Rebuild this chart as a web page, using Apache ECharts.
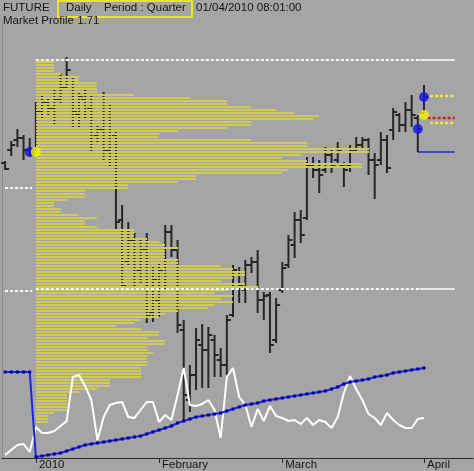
<!DOCTYPE html>
<html>
<head>
<meta charset="utf-8">
<script src="https://cdn.jsdelivr.net/npm/echarts@6/dist/echarts.min.js"></script>
<style>
html, body { margin: 0; padding: 0; background: #a5a5a5; }
#main { width: 474px; height: 471px; }
</style>
</head>
<body>
<div id="main"></div>
<script>
// trading day index, 0 = 04 Jan 2010 (negatives = end of Dec 2009)
const days = [-5, -4, -3, -2, -1,
  0, 1, 2, 3, 4, 5, 6, 7, 8, 9, 10, 11, 12, 13, 14, 15, 16, 17, 18, 19,
  20, 21, 22, 23, 24, 25, 26, 27, 28, 29, 30, 31, 32, 33, 34, 35, 36, 37, 38, 39,
  40, 41, 42, 43, 44, 45, 46, 47, 48, 49, 50, 51, 52, 53, 54, 55, 56, 57, 58, 59,
  60, 61, 62, 63]
const highs = [1148.5, 1158.5, 1164.5, 1161.5, 1160,
  1178, 1181.5, 1180, 1185, 1192.5, 1200.5, 1190, 1182.5, 1185, 1181.5,
  1166.5, 1183, 1176.5, 1164, 1126.5, 1118, 1112.5, 1109, 1112.5, 1096.5,
  1098, 1116.5, 1116.5, 1109, 1069, 1046.5, 1065, 1067, 1065.5, 1061.5,
  1055, 1071.5, 1096.5, 1095.5, 1099, 1100.5, 1104, 1083, 1083, 1080,
  1098, 1111.5, 1123, 1124, 1150.5, 1150.5, 1149, 1155.5, 1154, 1158,
  1148, 1156.5, 1160.5, 1160.5, 1160, 1152.5, 1163, 1161.5, 1175, 1172.5,
  1178, 1181.5, 1171.5, 1186.5]
const lows = [1144, 1151, 1155.5, 1149, 1150.5,
  1154, 1170, 1171.5, 1166.5, 1176.5, 1185, 1165.5, 1165, 1170, 1153,
  1157.5, 1149, 1145, 1114, 1085.5, 1096.5, 1085.5, 1086.5, 1067.5, 1068,
  1070.5, 1084, 1100.5, 1062.5, 1018, 1023, 1034, 1035, 1035, 1040.5,
  1040.5, 1041.5, 1070.5, 1077.5, 1077.5, 1092.5, 1072.5, 1069, 1052.5, 1057.5,
  1082.5, 1095, 1100, 1107.5, 1119, 1140, 1132.5, 1142.5, 1142.5, 1146.5,
  1135.5, 1143, 1153, 1154, 1141.5, 1129.5, 1146.5, 1142.5, 1159, 1163,
  1163, 1165.5, 1153, 1172.5]
const opens = [1147.5, 1154, 1159, 1160, 1154,
  1154, 1173, 1177.5, 1175, 1179, 1185, 1189, 1171.5, 1179, 1175,
  1161.5, 1164, 1154, 1161.5, 1119, 1098, 1109, 1094, 1104, 1073,
  1079, 1091.5, 1113, 1104, 1064, 1029, 1041.5, 1056.5, 1054, 1059,
  1049, 1046.5, 1071.5, 1091.5, 1084, 1096.5, 1098, 1079, 1081.5, 1059,
  1084, 1096.5, 1106.5, 1119, 1120, 1146.5, 1144, 1144, 1151.5, 1149,
  1146.5, 1146.5, 1154, 1156.5, 1159, 1149, 1149, 1159, 1164, 1171.5,
  1166.5, 1174, 1170, 1172.5]
const closes = [1144.5, 1156.5, 1160, 1154, 1153,
  1173, 1177.5, 1175, 1179, 1185, 1194, 1173, 1180.5, 1174, 1159,
  1164, 1154, 1165, 1118, 1086.5, 1109, 1091.5, 1104, 1071.5, 1089,
  1094, 1113, 1104, 1066.5, 1031.5, 1041.5, 1059, 1054, 1061.5, 1051.5,
  1046.5, 1069, 1094, 1086.5, 1096.5, 1098, 1079, 1081, 1056.5, 1076.5,
  1095, 1109, 1119, 1111.5, 1146.5, 1144, 1141.5, 1151.5, 1146.5, 1154,
  1144, 1154, 1156.5, 1159, 1149, 1146.5, 1159, 1145, 1173, 1166.5,
  1174, 1171.5, 1164.5, 1180.5]

// lower indicators
const oscillator = [3, 8, 13, 14, 6,
  31, 25, 25, 27, 32, 37, 81, 83, 72, 58,
  18, 41, 53, 55, 56, 41, 40, 48, 56, 56,
  36, 43, 38, 63, 90, 53, 52, 54, 58, 48,
  20, 81, 90, 61, 53, 31, 49, 37, 52, 42,
  40, 37, 38, 34, 40, 33, 38, 36, 30, 41,
  65, 82, 69, 58, 44, 40, 33, 45, 38, 33,
  30, 30, 39, 40]
const cumulative = [86, 86, 86, 86, 86,
  1, 2, 3, 4, 5, 7, 9, 11, 13, 14,
  15, 16, 17, 18, 19, 20, 21, 22, 24, 26,
  28, 30, 32, 35, 37, 39, 41, 42, 43, 44,
  45, 47, 49, 51, 53, 54, 55, 57, 58, 59,
  60, 61, 62, 63, 64, 65, 66, 67, 69, 71,
  74, 76, 77, 78, 79, 81, 82, 83, 85, 86,
  87, 88, 89, 90]

// market profile: TPO count per price row, from the top row down
const rowTop = 1198
const rowStep = 1.5
const tpo = [3, 3, 3, 3, 4, 7, 7, 10, 10, 10,
  10, 16, 25, 31, 31, 35, 39, 42, 46, 45,
  35, 35, 31, 23, 20, 20, 35, 44, 44, 54,
  54, 43, 40, 44, 53, 53, 41, 40, 26, 26,
  23, 15, 15, 8, 8, 8, 5, 3, 3, 4,
  4, 7, 10, 8, 8, 10, 16, 16, 16, 18,
  20, 21, 23, 21, 21, 21, 23, 23, 30, 32,
  34, 34, 32, 30, 34, 36, 31, 29, 32, 30,
  32, 29, 28, 23, 21, 20, 17, 16, 13, 17,
  20, 20, 18, 21, 21, 18, 18, 19, 18, 18,
  18, 18, 17, 17, 17, 17, 12, 12, 12, 10,
  7, 5, 5, 5, 5, 5, 5, 3, 2, 2,
  2]

const monthTicks = [0, 20, 40, 63]
const monthNames = ['2010', 'February', 'March', 'April']

const quarterLines = [1199, 1084.5]
const prevLines = [1135, 1083.5]
const quarterOpen = 1153
const yellowLevels = [1181, 1167.5]
const redLevel = 1170
const blueDots = [[-1, 1153], [62, 1164.5], [63, 1180.5]]
const yellowDots = [[0, 1153], [63, 1171.5]]

const font = 'Arial, "Liberation Sans", sans-serif'

const barData = days.map((d, i) => [d, highs[i], lows[i], opens[i], closes[i]])
const profileData = tpo.map((n, k) => [rowTop - k * rowStep, n])

function renderBar(params, api) {
  const x = api.value(0)
  const hi = api.coord([x, api.value(1)])
  const lo = api.coord([x, api.value(2)])
  const op = api.coord([x, api.value(3)])
  const cl = api.coord([x, api.value(4)])
  const st = { stroke: '#262626', lineWidth: 2 }
  return {
    type: 'group',
    children: [
      { type: 'line', shape: { x1: hi[0], y1: hi[1], x2: lo[0], y2: lo[1] }, style: st },
      { type: 'line', shape: { x1: op[0] - 4, y1: op[1], x2: op[0], y2: op[1] }, style: st },
      { type: 'line', shape: { x1: cl[0], y1: cl[1], x2: cl[0] + 4, y2: cl[1] }, style: st },
    ],
  }
}

// profile rows are 2px tall, pixel snapped, gaps let the bars show through
function renderRow(params, api) {
  const a = api.coord([0, api.value(0)])
  const b = api.coord([api.value(1), api.value(0)])
  const x0 = Math.round(a[0])
  const w = Math.round(b[0]) - x0
  const y0 = Math.round(a[1] - 1)
  return {
    type: 'rect',
    shape: { x: x0, y: y0, width: w, height: 2 },
    style: { fill: '#cfcb56' },
  }
}

function hLine(y, x0, x1, color, type, width, z) {
  return {
    type: 'line',
    data: [[x0, y], [x1, y]],
    symbol: 'none',
    silent: true,
    z: z,
    lineStyle: { color: color, type: type, width: width, cap: 'butt' },
  }
}

const series = [
  {
    type: 'custom',
    renderItem: renderBar,
    data: barData,
    encode: { x: 0, y: [1, 2] },
    z: 1,
  },
  {
    type: 'custom',
    renderItem: renderRow,
    data: profileData,
    encode: { x: 1, y: 0 },
    z: 2,
  },
]
quarterLines.forEach((v) => {
  series.push(hLine(v, 0, 62.3, '#ffffff', [3, 2], 2, 3))
  series.push(hLine(v, 62.3, 68, '#ffffff', 'solid', 1.5, 3))
})
prevLines.forEach((v) => {
  series.push(hLine(v, -5, -0.6, '#ffffff', [3, 2], 2, 3))
})
yellowLevels.forEach((v) => {
  series.push(hLine(v, 64, 68, '#eeee30', [3, 2], 2.5, 3))
})
series.push(hLine(redLevel, 63.6, 68, '#e01818', [3, 2], 2.5, 3))
series.push(hLine(quarterOpen, 62, 68, '#2020d8', 'solid', 1.5, 3))
series.push({
  type: 'scatter',
  data: blueDots,
  symbolSize: 10,
  itemStyle: { color: '#1414e6' },
  z: 4,
})
series.push({
  type: 'scatter',
  data: yellowDots,
  symbolSize: 10,
  itemStyle: { color: '#f4f400' },
  z: 5,
})
series.push({
  type: 'line',
  xAxisIndex: 1,
  yAxisIndex: 1,
  data: days.map((d, i) => [d, oscillator[i]]),
  symbol: 'none',
  lineStyle: { color: '#ffffff', width: 2 },
  z: 6,
})
series.push({
  type: 'line',
  xAxisIndex: 1,
  yAxisIndex: 1,
  data: days.map((d, i) => [d, cumulative[i]]),
  symbol: 'rect',
  symbolSize: 3,
  itemStyle: { color: '#00009a' },
  lineStyle: { color: '#2222e0', width: 2 },
  z: 7,
})

const chart = echarts.init(document.getElementById('main'))
chart.setOption({
  backgroundColor: '#a5a5a5',
  animation: false,
  grid: [
    { left: 2, width: 471.24, top: 20, height: 438 },
    { left: 2, width: 471.24, top: 358, height: 100 },
  ],
  xAxis: [
    {
      type: 'value',
      gridIndex: 0,
      min: -5.5,
      max: 71,
      splitLine: { show: false },
      axisLine: { show: true, onZero: false, lineStyle: { color: '#2a2a2a', width: 1 } },
      axisTick: { show: true, customValues: monthTicks, length: 5, lineStyle: { color: '#2a2a2a' } },
      axisLabel: {
        show: true,
        customValues: monthTicks,
        formatter: (v) => monthNames[monthTicks.indexOf(v)],
        align: 'left',
        padding: [0, 0, 0, 3],
        margin: 1,
        fontSize: 11.5,
        fontFamily: font,
        color: '#141414',
      },
    },
    { type: 'value', gridIndex: 1, min: -5.5, max: 71, show: false },
  ],
  yAxis: [
    {
      type: 'value',
      gridIndex: 0,
      min: 1000,
      max: 1219,
      splitLine: { show: false },
      axisLabel: { show: false },
      axisTick: { show: false },
      axisLine: { show: true, onZero: false, lineStyle: { color: '#8c8c8c' } },
    },
    { type: 'value', gridIndex: 1, min: 0, max: 100, show: false },
  ],
  graphic: [
    { type: 'text', x: 3, y: 2, style: { text: 'FUTURE', fontSize: 11.5, fontFamily: font, fill: '#141414', verticalAlign: 'top' } },
    { type: 'rect', shape: { x: 58, y: 1, width: 134, height: 16 }, style: { fill: 'none', stroke: '#e8e81c', lineWidth: 2 } },
    { type: 'text', x: 66, y: 2, style: { text: 'Daily', fontSize: 11.5, fontFamily: font, fill: '#141414', verticalAlign: 'top' } },
    { type: 'text', x: 104, y: 2, style: { text: 'Period : Quarter', fontSize: 11.5, fontFamily: font, fill: '#141414', verticalAlign: 'top' } },
    { type: 'text', x: 196, y: 2, style: { text: '01/04/2010 08:01:00', fontSize: 11.5, fontFamily: font, fill: '#141414', verticalAlign: 'top' } },
    { type: 'text', x: 3, y: 15, style: { text: 'Market Profile 1.71', fontSize: 11.5, fontFamily: font, fill: '#141414', verticalAlign: 'top' } },
  ],
  series: series,
})
</script>
</body>
</html>
